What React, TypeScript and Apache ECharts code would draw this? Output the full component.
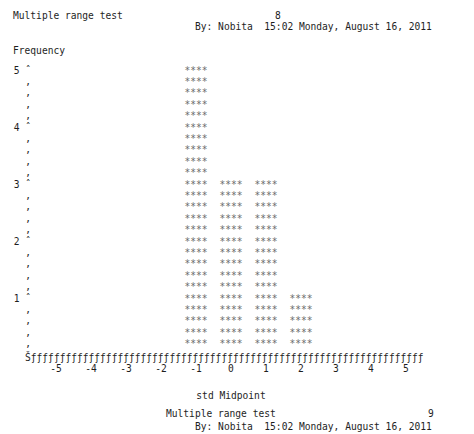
import * as echarts from 'echarts';
import { useEffect, useRef } from 'react';

// histogram of std, SAS line-printer style
const midpoints = [-5, -4, -3, -2, -1, 0, 1, 2, 3, 4, 5];
const frequencies = [0, 0, 0, 0, 5, 3, 3, 1, 0, 0, 0];
const rowsPerUnit = 5;

const pageTitle = 'Multiple range test';
const byLine = 'By: Nobita  15:02 Monday, August 16, 2011';
const pageNumbers = ['8', '9'];

const FONT = '9.6px "DejaVu Sans Mono", "Liberation Mono", monospace';
const INK = '#1e1e1e';
const STAR = '#6a6a6a';

function App() {
  const chartRef = useRef<HTMLDivElement>(null);

  useEffect(() => {
    const myChart = echarts.init(chartRef.current, null, { renderer: 'svg' });

    const headText = (text: string, x: number, y: number, align = 'left') => ({
      type: 'text',
      x,
      y,
      style: { text, font: FONT, fill: INK, align, verticalAlign: 'middle' },
    });

    const option = {
      animation: false,
      grid: { left: 21, right: 33, top: 70, bottom: 79 },
      xAxis: {
        type: 'value',
        min: -6,
        max: 6,
        interval: 1,
        name: 'std Midpoint',
        nameLocation: 'middle',
        nameGap: 35,
        nameTextStyle: { font: FONT, color: INK, fontFamily: 'DejaVu Sans Mono', fontSize: 9.6 },
        axisLine: { show: false },
        axisTick: { show: false },
        splitLine: { show: false },
        axisLabel: {
          margin: 8,
          color: INK,
          fontFamily: 'DejaVu Sans Mono',
          fontSize: 9.6,
          formatter: (v: number) => (midpoints.includes(v) ? String(v) : ''),
        },
      },
      yAxis: {
        type: 'value',
        min: 0,
        max: 5,
        interval: 1 / rowsPerUnit,
        offset: -10,
        axisLine: { show: false },
        axisTick: { show: false },
        splitLine: { show: false },
        axisLabel: {
          margin: 0,
          color: INK,
          fontFamily: 'DejaVu Sans Mono',
          fontSize: 9.6,
          formatter: (v: number) => {
            const r = Math.round(v);
            if (Math.abs(v - r) < 1e-6) return r === 0 ? '' : `${r} ˆ`;
            return '‚';
          },
        },
      },
      graphic: [
        headText(pageTitle, 13, 15),
        headText(pageNumbers[0], 278, 15, 'center'),
        headText(byLine, 195, 26),
        headText('Frequency', 13, 50),
        headText('Š' + 'ƒ'.repeat(68), 25, 357),
        headText(pageTitle, 166, 413),
        headText(pageNumbers[1], 431, 413, 'center'),
        headText(byLine, 195, 426),
      ],
      series: [
        {
          type: 'custom',
          data: midpoints.map((m, i) => [m, frequencies[i]]),
          renderItem: (params: any, api: any) => {
            const x = api.value(0);
            const rows = Math.round(api.value(1) * rowsPerUnit);
            const children = [];
            for (let j = 1; j <= rows; j++) {
              const pt = api.coord([x, j / rowsPerUnit]);
              children.push({
                type: 'text',
                x: pt[0],
                y: pt[1],
                style: {
                  text: '****',
                  font: FONT,
                  fill: STAR,
                  align: 'center',
                  verticalAlign: 'middle',
                },
              });
            }
            return { type: 'group', children };
          },
        },
      ],
    };

    myChart.setOption(option);

    return () => {
      myChart.dispose();
    };
  }, []);

  return (
    <div
      ref={chartRef}
      style={{ position: 'fixed', left: 0, top: 0, width: '474px', height: '434px', background: '#fff' }}
    ></div>
  );
}

export default App;
